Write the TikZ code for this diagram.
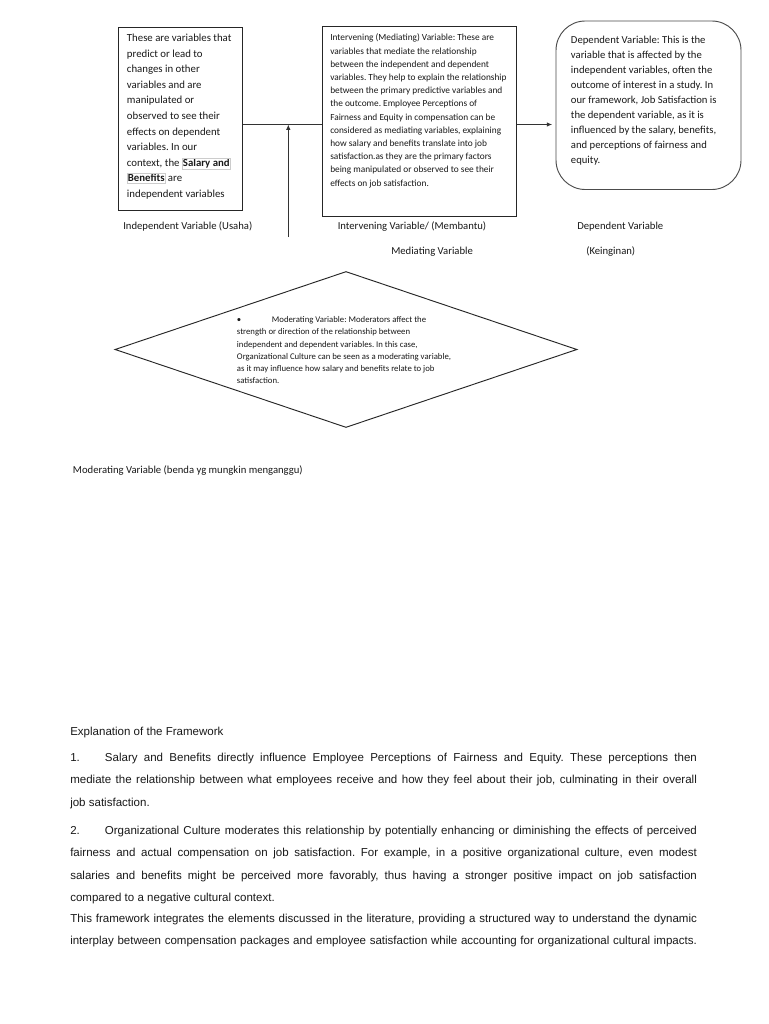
\documentclass[tikz,border=0pt]{standalone}
\usepackage{fontspec}
\setmainfont{Carlito}
\newfontfamily\arialf{Liberation Sans}
\usetikzlibrary{shapes.geometric,arrows.meta}
\frenchspacing
\newcommand\hlbox[1]{{\setlength\fboxsep{0.4pt}\setlength\fboxrule{0.3pt}\fcolorbox{black!20}{white}{\textbf{#1}}}}
\newcommand\natsp{\spaceskip=0pt\xspaceskip=0pt\frenchspacing\relax}
\newcommand\jline[1]{{\natsp\makebox[470pt][s]{#1}}}
\begin{document}
\begin{tikzpicture}[x=0.75pt,y=-0.75pt,
  boxframe/.style={draw=black!85, line width=0.8pt, inner sep=0, rectangle},
  txt/.style={anchor=base west, inner sep=0, align=left, text=black!90, execute at begin node=\natsp},
  lbl/.style={anchor=base west, inner sep=0, font=\fontsize{8}{10}\selectfont, text=black!90},
  conn/.style={draw=black!80, line width=0.8pt},
  tip/.style={-{Latex[length=4pt,width=3.4pt]}}
]
\useasboundingbox[fill=white] (0,0) rectangle (768,1024);

% boxes
\node[boxframe, minimum width=93.2pt, minimum height=137.6pt] (b1) at (180.6,119) {};
\node[boxframe, minimum width=145.3pt, minimum height=142.7pt] (b2) at (419.2,121.6) {};
\node[boxframe, draw=black!70, line width=0.7pt, rounded corners=22pt, minimum width=138.75pt, minimum height=126.4pt] (b3) at (648.5,105.25) {};

% box texts
\node[txt, font=\fontsize{8.1}{11.7}\selectfont, text width=120pt] (t1) at (126.7,41.5) {These are variables that\\
predict or lead to\\
changes in other\\
variables and are\\
manipulated or\\
observed to see their\\
effects on dependent\\
variables. In our\\
context, the \hlbox{Salary and}\\
\hlbox{Benefits} are\\
independent variables};

\node[txt, font=\fontsize{7}{9.9}\selectfont, text width=160pt] (t2) at (330,41) {Intervening (Mediating) Variable: These are\\
variables that mediate the relationship\\
between the independent and dependent\\
variables. They help to explain the relationship\\
between the primary predictive variables and\\
the outcome. Employee Perceptions of\\
Fairness and Equity in compensation can be\\
considered as mediating variables, explaining\\
how salary and benefits translate into job\\
satisfaction.as they are the primary factors\\
being manipulated or observed to see their\\
effects on job satisfaction.};

\node[txt, font=\fontsize{8}{11.2}\selectfont, text width=140pt] (t3) at (570.7,44) {Dependent Variable: This is the\\
variable that is affected by the\\
independent variables, often the\\
outcome of interest in a study. In\\
our framework, Job Satisfaction is\\
the dependent variable, as it is\\
influenced by the salary, benefits,\\
and perceptions of fairness and\\
equity.};

% labels
\node[lbl] (l1) at (123,229) {Independent Variable (Usaha)};
\node[lbl] (l2) at (337.5,229) {Intervening Variable/ (Membantu)};
\node[lbl] (l3) at (391,254) {Mediating Variable};
\node[lbl] (l4) at (577,229) {Dependent Variable};
\node[lbl] (l5) at (586,254) {(Keinginan)};

% connectors
\coordinate (ly) at (0,124.5);
\coordinate (vb) at (288.3,237);
\draw[conn] (b1.east |- ly) -- (b2.west |- ly);
\draw[conn,tip] (vb) -- (vb |- ly);
\draw[conn,tip,shorten >=2.5pt] (b2.east |- ly) -- (b3.west |- ly);

% diamond
\node[draw=black!85, line width=0.7pt, diamond, inner sep=0, minimum width=346.5pt, minimum height=117pt] (dm) at (346,349.5) {};
\node[txt, font=\fontsize{6.55}{9.2}\selectfont, text width=200pt] (dt) at (236.7,322.5) {\makebox[26.25pt][l]{\textbullet}Moderating Variable: Moderators affect the\\
strength or direction of the relationship between\\
independent and dependent variables. In this case,\\
Organizational Culture can be seen as a moderating variable,\\
as it may influence how salary and benefits relate to job\\
satisfaction.};

\node[lbl] (l6) at (72.7,473) {Moderating Variable (benda yg mungkin menganggu)};

% explanation
\begin{scope}[every node/.style={txt, font=\arialf\fontsize{8.65}{16.7}\selectfont, text width=470pt}]
\node (e0) at (70,735.7) {Explanation of the Framework};
\node (e1) at (70,761.5) {\jline{\makebox[26pt][l]{1.}Salary and Benefits directly influence Employee Perceptions of Fairness and Equity. These perceptions then}\\
\jline{mediate the relationship between what employees receive and how they feel about their job, culminating in their overall}\\
job satisfaction.};
\node (e2) at (70,834.5) {\jline{\makebox[26pt][l]{2.}Organizational Culture moderates this relationship by potentially enhancing or diminishing the effects of perceived}\\
\jline{fairness and actual compensation on job satisfaction. For example, in a positive organizational culture, even modest}\\
\jline{salaries and benefits might be perceived more favorably, thus having a stronger positive impact on job satisfaction}\\
compared to a negative cultural context.};
\node (e3) at (70,922.5) {\jline{This framework integrates the elements discussed in the literature, providing a structured way to understand the dynamic}\\
\jline{interplay between compensation packages and employee satisfaction while accounting for organizational cultural impacts.}};
\end{scope}
\end{tikzpicture}
\end{document}
